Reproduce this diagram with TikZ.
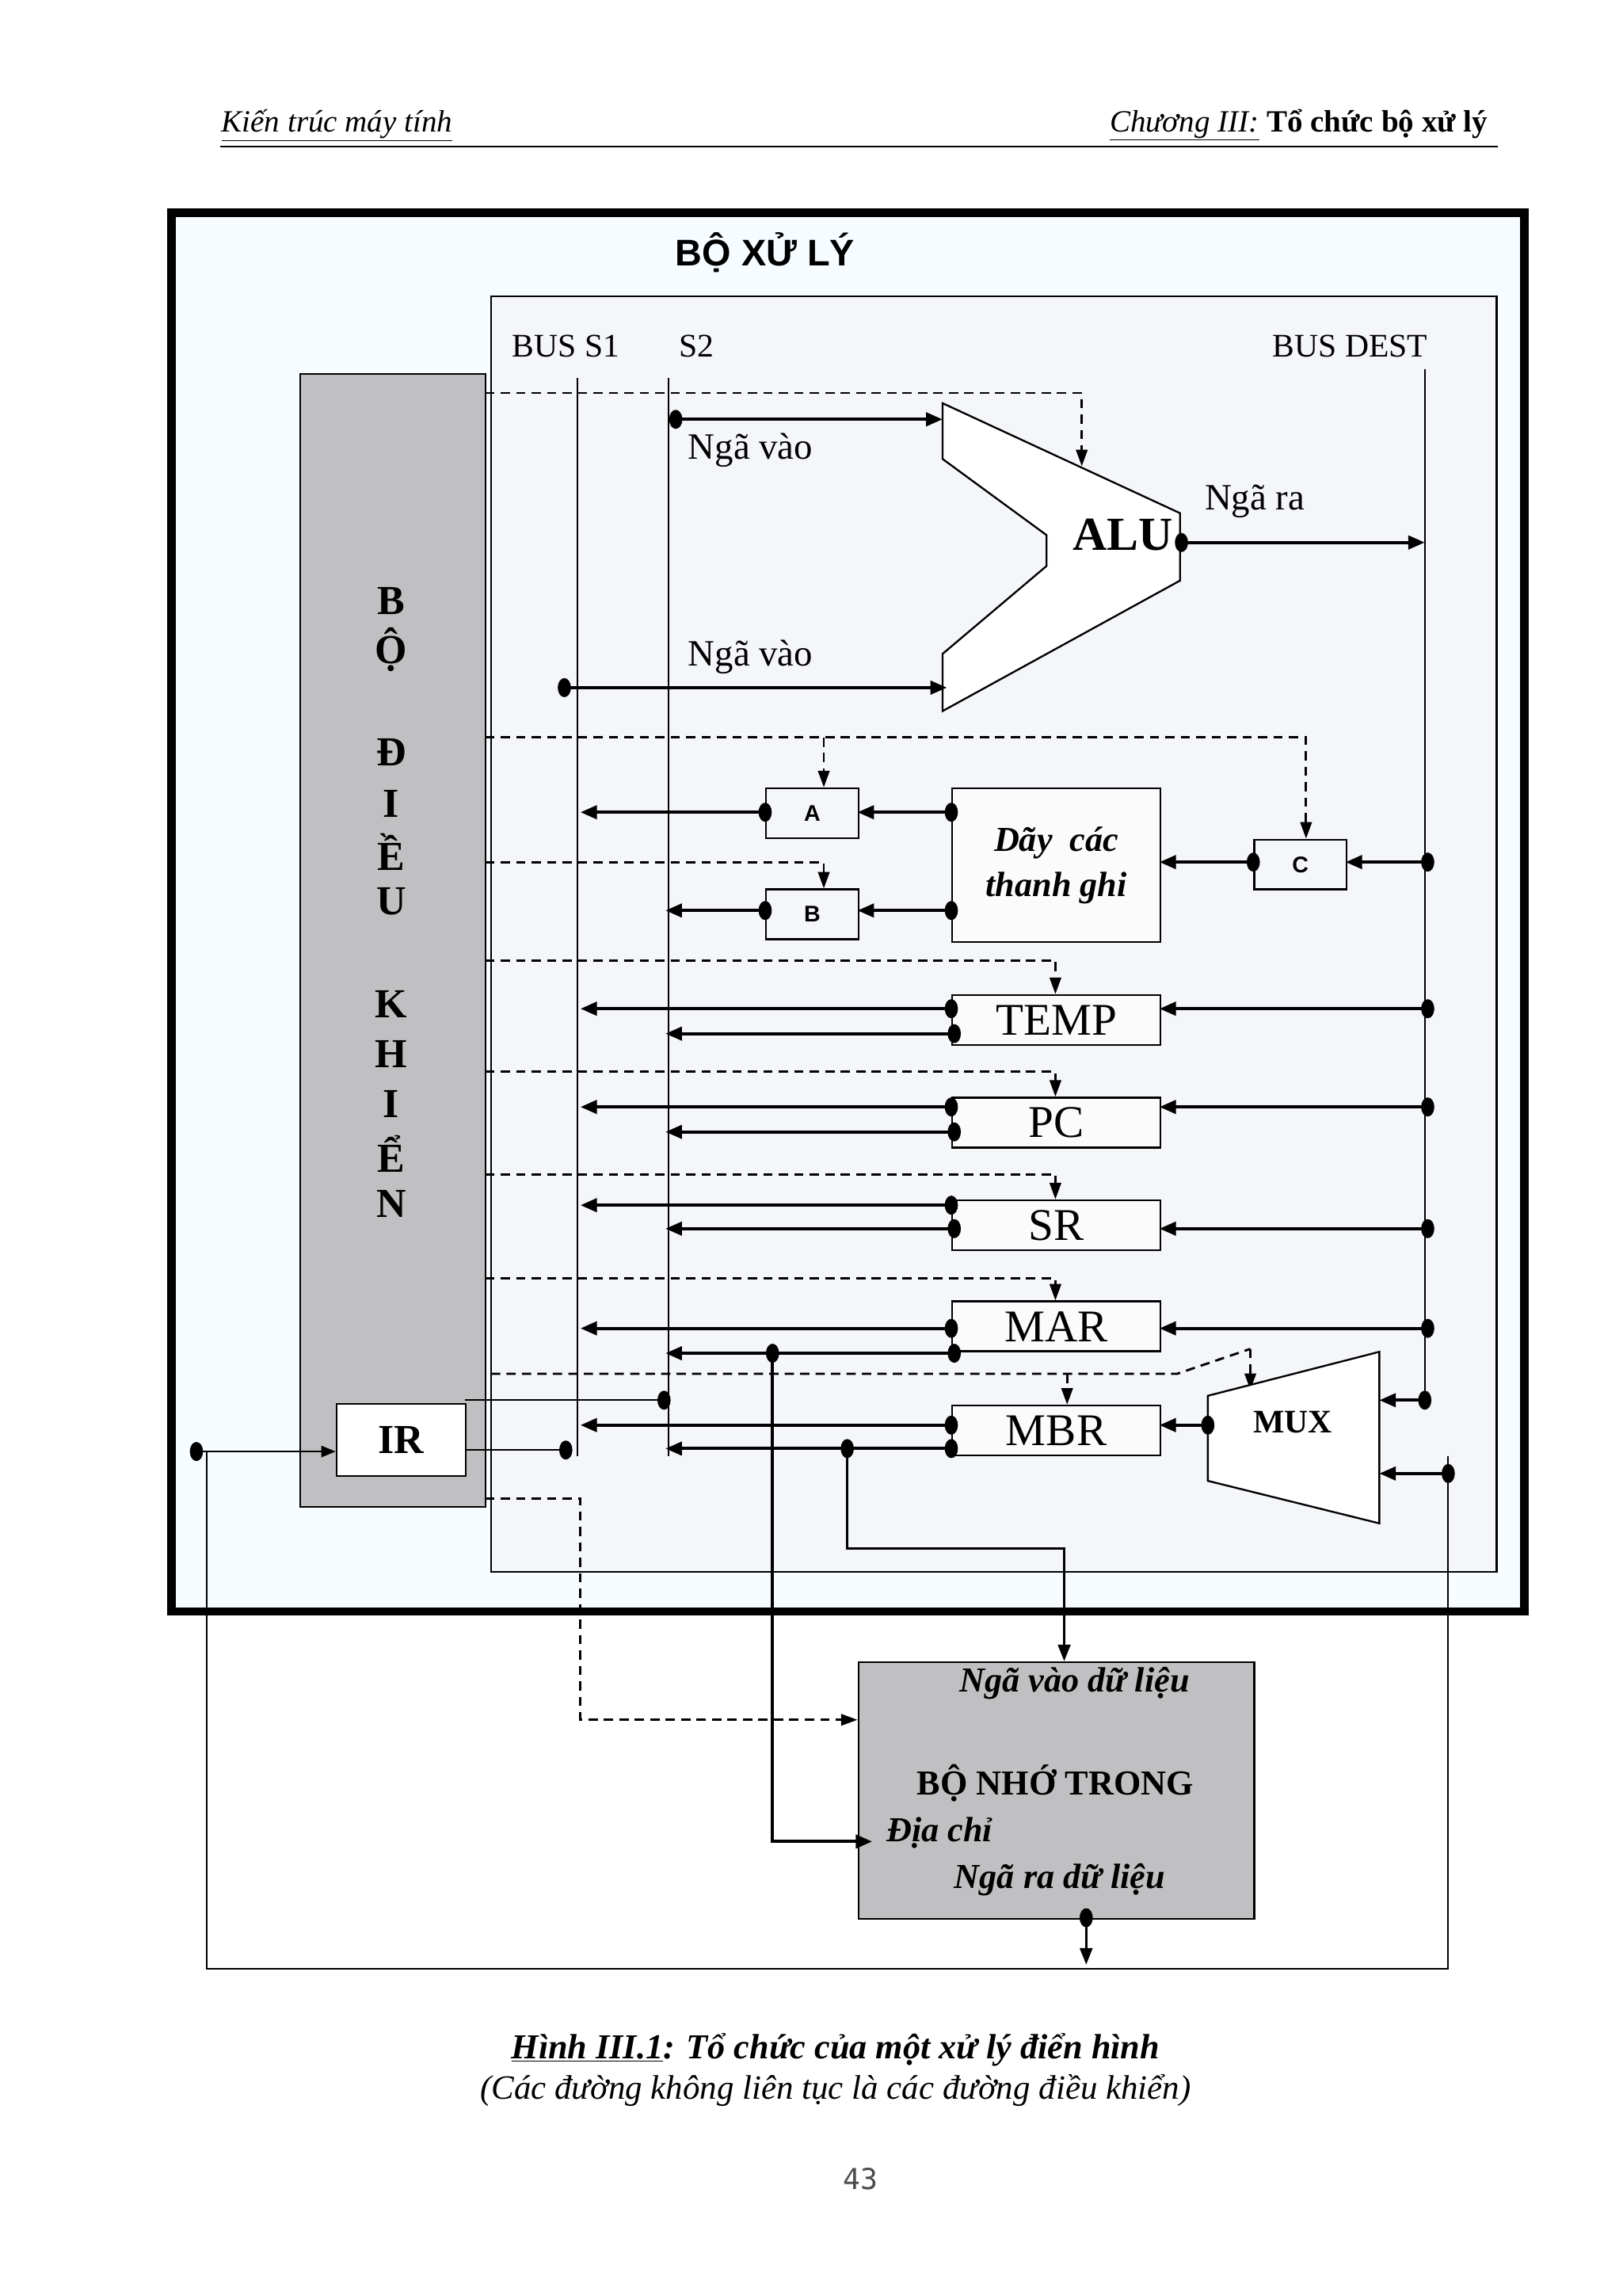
\documentclass[tikz,border=0pt]{standalone}
\usepackage{fontspec}
\setmainfont{Liberation Serif}
\newfontfamily\sansf{Liberation Sans}
\newfontfamily\monof{DejaVu Sans Mono}
\usetikzlibrary{arrows.meta}
\begin{document}
\begin{tikzpicture}[x=0.05cm,y=-0.05cm,
  bus/.style={line width=1.6pt},
  arr/.style={line width=3.2pt,-{Triangle[length=16pt,width=13pt]}},
  ctl/.style={line width=2.2pt,dash pattern=on 9pt off 6pt},
  ctla/.style={ctl,-{Triangle[length=16pt,width=11pt]}},
  reg/.style={draw,line width=1.8pt,fill=white!50!black!3,anchor=north west,minimum width=7.1cm,minimum height=1.7cm,inner sep=0pt,font=\fontsize{44}{48}\selectfont},
  sreg/.style={draw,line width=1.8pt,anchor=north west,minimum width=3.15cm,minimum height=1.7cm,inner sep=0pt,font=\sansf\bfseries\fontsize{22}{24}\selectfont},
  lab/.style={inner sep=0pt,font=\fontsize{36}{40}\selectfont}]
\useasboundingbox (0,0) rectangle (1107,1566);
\fill[white] (0,0) rectangle (1107,1566);
\newcommand\dt[1]{\fill #1 ellipse [x radius=4.5, y radius=6.5];}
% header
\node[anchor=base west,inner sep=0pt,font=\fontsize{30}{34}\selectfont] (h1) at (151,90) {\underline{\textit{Kiến trúc máy tính}}};
\node[anchor=base east,inner sep=0pt,font=\fontsize{30}{34}\selectfont] (h2) at (1015,90) {\underline{\textit{Chương III:}} \textbf{Tổ chức bộ xử lý}};
\draw[line width=1.8pt] (150,100) -- (1022,100);
% outer and inner boxes
\draw[line width=8pt,fill={rgb,255:red,246;green,252;blue,255}] (117,145) rectangle (1040,1099);
\node[font=\sansf\bfseries\fontsize{36}{40}\selectfont] (title) at (522,172) {BỘ XỬ LÝ};
\draw[line width=1.8pt,fill={rgb,255:red,244;green,246;blue,250}] (335,202) rectangle (1021,1072);
% buses
\node[lab,font=\fontsize{32}{36}\selectfont] (ls1) at (386,236) {BUS S1};
\node[lab,font=\fontsize{32}{36}\selectfont] (ls2) at (475,236) {S2};
\node[lab,font=\fontsize{32}{36}\selectfont] (ld) at (921,236) {BUS DEST};
\draw[bus] (394,258) -- (394,993);
\draw[bus] (456,258) -- (456,993);
\draw[bus] (972,252) -- (972,955);
% control unit
\draw[line width=1.6pt,fill={rgb,255:red,192;green,192;blue,194}] (205,255) rectangle (331,1028);
\foreach \t/\y in {B/410,Ộ/443,Đ/513,I/548,Ề/581,U/615,K/685,H/719,I/753,Ể/787,N/821}
  \node[font=\bfseries\fontsize{40}{44}\selectfont,inner sep=0pt] at (267,\y) {\t};
\node[draw,line width=1.8pt,fill=white,anchor=north west,minimum width=4.4cm,minimum height=2.45cm,inner sep=0pt,font=\bfseries\fontsize{40}{44}\selectfont] (IR) at (229,957) {IR};
% ALU
\draw[line width=1.8pt,fill=white] (643,275) -- (643,313) -- (714,365) -- (714,386) -- (643,446) -- (643,485) -- (805,396) -- (805,350) -- cycle;
\node[font=\bfseries\fontsize{46}{50}\selectfont,inner sep=0pt] (alu) at (766,365) {ALU};
\node[lab] (nv1) at (512,307) {Ngã vào};
\node[lab] (nv2) at (512,448) {Ngã vào};
\node[lab] (nr) at (856,342) {Ngã ra};
\coordinate (i1) at (461,286); \dt{(i1)} \draw[arr] (i1) -- (643,286);
\coordinate (i2) at (385,469); \dt{(i2)} \draw[arr] (i2) -- (646,469);
\coordinate (o1) at (806,370); \dt{(o1)} \draw[arr] (o1) -- (972,370);
\draw[ctla] (331,268) -- (738,268) -- (738,318);
% register file, A, B, C
\node[sreg] (A) at (522,537) {A};
\node[sreg] (B) at (522,606) {B};
\node[sreg] (C) at (855,572) {C};
\node[reg,minimum height=5.25cm,align=center,font=\bfseries\itshape\fontsize{34}{44}\selectfont] (RF) at (649,537) {Dãy\ \ các\\thanh ghi};
\coordinate (ra) at (649,554); \dt{(ra)} \draw[arr] (ra) -- (585,554);
\coordinate (al) at (522,554); \dt{(al)} \draw[arr] (al) -- (396,554);
\coordinate (rb) at (649,621); \dt{(rb)} \draw[arr] (rb) -- (585,621);
\coordinate (bl) at (522,621); \dt{(bl)} \draw[arr] (bl) -- (454,621);
\coordinate (dc) at (974,588); \dt{(dc)} \draw[arr] (dc) -- (918,588);
\coordinate (cl) at (855,588); \dt{(cl)} \draw[arr] (cl) -- (791,588);
\draw[ctla] (331,503) -- (891,503) -- (891,572);
\draw[ctla] (562,503) -- (562,537);
\draw[ctla] (331,588) -- (562,588) -- (562,606);
% TEMP PC SR MAR
\foreach \n/\t/\ty/\ya/\yb/\yd/\dy in {TEMP/TEMP/678/688/705/688/655, PC/PC/748/755/772/755/731, SR/SR/818/822/838/838/801, MAR/MAR/887/906/923/906/872}{
  \node[reg] (\n) at (649,\ty) {\t};
  \coordinate (a\n) at (649,\ya); \dt{(a\n)} \draw[arr] (a\n) -- (396,\ya);
  \coordinate (b\n) at (651,\yb); \dt{(b\n)} \draw[arr] (b\n) -- (454,\yb);
  \coordinate (d\n) at (974,\yd); \dt{(d\n)} \draw[arr] (d\n) -- (791,\yd);
  \draw[ctla] (331,\dy) -- (720,\dy) -- (720,\ty);
}
\coordinate (mj) at (527,923); \dt{(mj)}
% MBR
\node[reg] (MBR) at (649,958) {MBR};
\draw[ctl] (335,937) -- (803,937) -- (853,920);
\draw[ctla] (853,920) -- (853,948);
\draw[ctla] (728,937) -- (728,958);
\coordinate (m1) at (649,972); \dt{(m1)} \draw[arr] (m1) -- (396,972);
\coordinate (m2) at (649,988); \dt{(m2)} \draw[arr] (m2) -- (454,988);
\coordinate (mj2) at (578,988); \dt{(mj2)}
% MUX
\draw[line width=1.8pt,fill=white] (824,952) -- (941,922) -- (941,1039) -- (824,1010) -- cycle;
\node[font=\bfseries\fontsize{32}{36}\selectfont,inner sep=0pt] (mux) at (882,970) {MUX};
\coordinate (mo) at (824,972); \dt{(mo)} \draw[arr] (mo) -- (791,972);
\coordinate (md) at (972,955); \dt{(md)} \draw[arr] (md) -- (941,955);
\coordinate (mi) at (988,1005); \dt{(mi)} \draw[arr] (mi) -- (941,1005);
% IR connections
\draw[bus] (317,955) -- (453,955); \dt{(453,955)}
\draw[bus] (317,989) -- (386,989); \dt{(386,989)}
% memory
\node[draw,line width=1.8pt,fill={rgb,255:red,192;green,192;blue,194},anchor=north west,minimum width=13.5cm,minimum height=8.75cm,inner sep=0pt] (MEM) at (585,1133) {};
\node[font=\bfseries\itshape\fontsize{34}{38}\selectfont,inner sep=0pt] at (733,1148) {Ngã vào dữ liệu};
\node[font=\bfseries\fontsize{34}{38}\selectfont,inner sep=0pt] at (720,1216) {BỘ NHỚ TRONG};
\node[font=\bfseries\itshape\fontsize{34}{38}\selectfont,inner sep=0pt] at (641,1250) {Địa chỉ};
\node[font=\bfseries\itshape\fontsize{34}{38}\selectfont,inner sep=0pt] at (723,1282) {Ngã ra dữ liệu};
\draw[ctla] (331,1022) -- (396,1022) -- (396,1173) -- (585,1173);
\draw[arr] (mj) -- (527,1256) -- (595,1256);
\draw[line width=2.4pt,-{Triangle[length=16pt,width=12pt]}] (mj2) -- (578,1056) -- (726,1056) -- (726,1133);
\coordinate (mout) at (741,1308); \dt{(mout)}
\draw[line width=2.4pt,-{Triangle[length=16pt,width=12pt]}] (mout) -- (741,1340);
\draw[bus] (988,993) -- (988,1343) -- (141,1343) -- (141,990);
\coordinate (irin) at (134,990); \dt{(irin)}
\draw[line width=1.8pt,-{Triangle[length=14pt,width=11pt]}] (irin) -- (229,990);
% caption
\node[font=\bfseries\itshape\fontsize{34}{38}\selectfont,inner sep=0pt] (cap1) at (570,1398) {\underline{Hình III.1}: Tổ chức của một xử lý điển hình};
\node[font=\itshape\fontsize{33}{37}\selectfont,inner sep=0pt] (cap2) at (570,1426) {(Các đường không liên tục là các đường điều khiển)};
\node[font=\monof\fontsize{28}{32}\selectfont,text=black!70,inner sep=0pt] (pg) at (587,1486) {43};
\end{tikzpicture}
\end{document}
